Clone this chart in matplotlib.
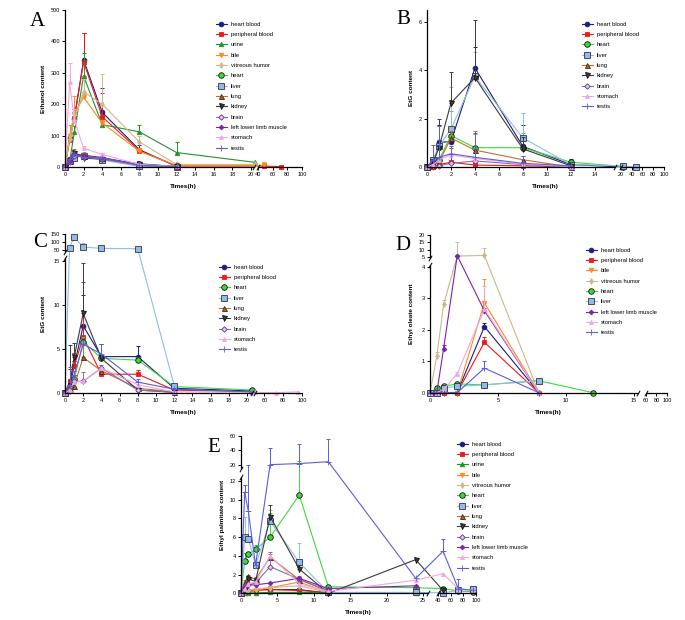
import numpy as np
import matplotlib
matplotlib.use('Agg')
import matplotlib.pyplot as plt
from matplotlib import transforms

plt.rcParams['font.family'] = ['Liberation Sans', 'DejaVu Sans']

N = None

## Panel A - ethanol
A_T = [0, 0.5, 1, 2, 4, 8, 12, 24, 48, 72]
A_HEART_BLOOD = [0, 92, 154, 341, 174, 55, 2]
A_HEART_BLOOD_SD = [0, 8, 32, 87, 76, 15, 0]
A_PERIPHERAL = [0, 85, 155, 335, 160, 52, 3, N, 3, 1]
A_PERIPHERAL_SD = [0, 10, 20, 92, 76, 10, 0, 0, 2, 0]
A_URINE = [0, 18, 110, 290, 135, 112, 46, 15]
A_URINE_SD = [0, 5, 20, 72, 10, 23, 34, 0]
A_BILE = [0, 100, 170, 222, 140, 50, 5, N, 5]
A_BILE_SD = [0, 35, 56, 10, 10, 10, 0, 0, 10]
A_VITREOUS = [0, 90, 150, 240, 200, 80, 8, 8]
A_VITREOUS_SD = [0, 10, 20, 40, 95, 18, 0, 0]
A_HEART = [0, 20, 38, 35, 25, 10, 2]
A_HEART_SD = [0, 5, 10, 12, 8, 4, 0]
A_LIVER = [0, 20, 30, 35, 22, 2, 1]
A_LUNG = [0, 25, 45, 35, 28, 8, 2]
A_LUNG_SD = [0, 5, 12, 8, 5, 3, 0]
A_KIDNEY = [0, 22, 45, 28, 25, 10, 1]
A_BRAIN = [0, 15, 35, 32, 25, 5, 1]
A_MUSCLE = [0, 18, 40, 38, 30, 8, 1]
A_STOMACH = [0, 270, 150, 60, 40, 8, 2]
A_STOMACH_SD = [0, 62, 35, 8, 5, 2, 0]
A_TESTIS = [0, 25, 40, 30, 30, 5, 1]

## Panel B - EtG
B_T = [0, 0.5, 1, 2, 4, 8, 12, 24, 48]
B_HEART_BLOOD = [0, 0, 1.02, 1.05, 4.1, 0.85, 0.1, 0.0]
B_HEART_BLOOD_SD = [0, 0, 0.7, 0.3, 0.85, 0.9, 0.25, 0]
B_PERIPHERAL = [0, 0.02, 0.1, 0.2, 0.08, 0.05, 0.0]
B_PERIPHERAL_SD = [0, 0, 0.05, 0.6, 0.1, 0.05, 0]
B_HEART = [0, 0.2, 0.3, 1.3, 0.8, 0.8, 0.2, 0.02]
B_HEART_SD = [0, 0.1, 0.4, 1.0, 0.55, 0.6, 0.1, 0]
B_LIVER = [0, 0.3, 0.85, 1.58, 3.75, 1.2, 0.1, 0.05, 0.0]
B_LIVER_SD = [0, 0.6, 0.85, 1.75, 1.0, 1.05, 0.1, 0, 0]
B_LUNG = [0, 0.1, 0.2, 1.2, 0.7, 0.3, 0.0]
B_LUNG_SD = [0, 0, 0.2, 0.3, 0.8, 0.15, 0]
B_KIDNEY = [0, 0.2, 0.8, 2.65, 3.7, 0.75, 0.05]
B_KIDNEY_SD = [0, 0.2, 1.2, 1.3, 2.4, 0.5, 0]
B_BRAIN = [0, 0.05, 0.05, 0.15, 0.25, 0.1, 0.0]
B_STOMACH = [0, 0.1, 0.3, 0.5, 0.35, 0.12, 0.02]
B_TESTIS = [0, 0.3, 0.4, 0.55, 0.4, 0.15, 0.05]
B_TESTIS_SD = [0, 0.6, 1.3, 0.3, 1.0, 0.3, 0]

## Panel C - EtG
C_T = [0, 0.5, 1, 2, 4, 8, 12, 24, 48, 72, 96]
C_HEART_BLOOD = [0, 0.5, 3.0, 7.6, 4.1, 4.1, 0.5, 0.2]
C_HEART_BLOOD_SD = [0, 0.5, 0.6, 3.5, 1.4, 1.2, 0.2, 0]
C_PERIPHERAL = [0, 1.3, 3.0, 6.3, 2.1, 2.1, 0.3, 0.1]
C_PERIPHERAL_SD = [0, 1.4, 1.5, 6.3, 0.3, 0.5, 0.1, 0]
C_HEART = [0, 0.5, 1.5, 5.8, 3.9, 3.7, 0.7, 0.3]
C_HEART_SD = [0, 0.3, 0.5, 0.5, 0.3, 0.3, 0.1, 0]
C_LIVER = [0, 65, 130, 69, 60, 58, 0.8]
C_LIVER_SD = [0, 0, 5, 28, 3, 3, 0.1]
C_LUNG = [0, 0.3, 0.8, 4.0, 2.5, 0.5, 0.1]
C_LUNG_SD = [0, 0, 0.3, 1.5, 0.3, 0.1, 0]
C_KIDNEY = [0, 0.8, 4.0, 9.0, 3.9, 0.3, 0.05]
C_KIDNEY_SD = [0, 4.6, 1.6, 5.7, 0.4, 0.1, 0]
C_BRAIN = [0, 0.2, 1.3, 1.3, 2.8, 0.3, 0.05]
C_BRAIN_SD = [0, 0, 0.2, 1.0, 0.3, 0, 0]
C_STOMACH = [0, 0.3, 1.2, 1.3, 2.8, 0.9, 0.1, 0.05, 0.05, 0.0, 0.1]
C_TESTIS = [0, 0.8, 2.0, 5.5, 4.4, 1.2, 0.4, 0.1]
C_TESTIS_SD = [0, 2.1, 0.5, 0.5, 1.1, 0.3, 0.1, 0]

## Panel D - ethyl oleate
D_T = [0, 0.5, 1, 2, 4, 8, 12]
D_HEART_BLOOD = [0, 0, 0, 0, 2.1, 0]
D_HEART_BLOOD_SD = [0, 0, 0, 0, 0.1, 0]
D_PERIPHERAL = [0, 0, 0, 0, 1.6, 0]
D_PERIPHERAL_SD = [0, 0, 0, 0, 0.18, 0]
D_BILE = [0, 0, 0, 0, 2.85, 0]
D_BILE_SD = [0, 0, 0, 0, 0.75, 0]
D_VITREOUS = [0, 1.15, 2.8, 5.8, 6.2, 0]
D_VITREOUS_SD = [0, 0.15, 0.15, 9.2, 4.8, 0]
D_HEART = [0, 0.15, 0.2, 0.28, 0.25, 0.38, 0.0]
D_HEART_SD = [0, 0, 0.03, 0.03, 0, 0.04, 0]
D_LIVER = [0, 0, 0.15, 0.2, 0.25, 0.38]
D_MUSCLE = [0, 0, 1.4, 6.0, 2.6, 0]
D_MUSCLE_SD = [0, 0, 0.1, 0.4, 0.1, 0]
D_STOMACH = [0, 0, 0.1, 0.6, 2.65, 0]
D_STOMACH_SD = [0, 0, 0, 0.05, 0.75, 0]
D_TESTIS = [0, 0, 0, 0, 0.78, 0]
D_TESTIS_SD = [0, 0, 0, 0, 0.24, 0]

## Panel E - ethyl palmitate
E_T = [0, 0.5, 1, 2, 4, 8, 12, 24, 48, 72, 96]
E_HEART_BLOOD = [0, 0.1, 0.2, 0.4, 0.4, 0.4, 0.0]
E_PERIPHERAL = [0, 0.1, 0.15, 0.3, 0.4, 0.3, 0.1]
E_URINE = [0, 0.05, 0.05, 0.05, 0.1, 0.1, 0.05, 0.0]
E_BILE = [0, 0.1, 0.2, 0.3, 0.6, 1.2, 0.1]
E_VITREOUS = [0, 0.2, 0.3, 0.5, 0.6, 0.8, 0.1]
E_HEART = [0, 3.45, 4.2, 4.7, 6.0, 10.5, 0.7, 0.6, 0.5, 0.25, 0.15]
E_HEART_SD = [0, 0.9, 0.2, 0.5, 2.6, 15, 0.1, 0, 0.1, 0, 0]
E_LIVER = [0, 6.0, 5.85, 3.0, 7.7, 3.3, 0.1, 0.1, 0.05, 0.3, 0.45]
E_LIVER_SD = [0, 2.2, 2.9, 0.4, 1.2, 2.05, 0, 0, 0, 0.2, 0]
E_LUNG = [0, 1.2, 1.8, 1.5, 3.85, 1.45, 0.3]
E_LUNG_SD = [0, 0.2, 0.2, 0.2, 0.3, 0.3, 0]
E_KIDNEY = [0, 0.5, 1.5, 1.3, 8.2, 2.6, 0.0, 3.6, 0.3]
E_KIDNEY_SD = [0, 0, 0, 0, 1.2, 0.4, 0, 0, 0]
E_BRAIN = [0, 0.8, 1.0, 1.1, 2.85, 1.5, 0.2]
E_BRAIN_SD = [0, 0, 0, 0, 1.6, 0.3, 0]
E_MUSCLE = [0, 0.7, 0.9, 0.9, 1.1, 1.6, 0.5, 0.8]
E_STOMACH = [0, 0.5, 1.0, 1.2, 4.0, 1.0, 0.2, 1.4, 2.1, 0.5, 0.3]
E_TESTIS = [0, 10.8, 8.8, 3.0, 20.5, 22, 24.5, 1.6, 4.5, 0.5, 0.3]
E_TESTIS_SD = [0, 0.8, 11.2, 0, 22.5, 26, 30.5, 0, 1.3, 1.0, 0]

# colour, marker, size, face, edge
STYLE = {
    'heart blood': ('#1c1c84', 'o', 3.4, '#1c1c84', '#1c1c84'),
    'peripheral blood': ('#f01818', 's', 3.4, '#f01818', '#f01818'),
    'urine': ('#22922a', '^', 3.2, '#22922a', '#22922a'),
    'bile': ('#ff8a1c', 'v', 3.2, '#ff8a1c', '#ff8a1c'),
    'vitreous humor': ('#c9b98d', 'd', 3.0, '#c9b98d', '#c9b98d'),
    'heart': ('#3ada3a', 'o', 4.0, '#3ada3a', '#111111'),
    'liver': ('#92bce8', 's', 4.0, '#92bce8', '#333344'),
    'lung': ('#c0702a', '^', 3.6, '#b06020', '#3a2a1a'),
    'kidney': ('#3a3a3a', 'v', 3.6, '#3a3a3a', '#111111'),
    'brain': ('#8a6aaa', 'D', 2.8, '#e0c8f0', '#5a3a7a'),
    'left lower limb muscle': ('#7d22a8', 'D', 2.4, '#7d22a8', '#7d22a8'),
    'stomach': ('#f2a6e2', '^', 2.8, '#f2a6e2', '#f2a6e2'),
    'testis': ('#5c5cdc', '+', 4.5, '#5c5cdc', '#5c5cdc'),
}

W, H = 685, 620
fig = plt.figure(figsize=(6.85, 6.2), dpi=100)
SLASH = [(-1, -1.7), (1, 1.7)]
LW = 0.9


def pad(vals, n):
    vals = list(vals) + [N] * (n - len(vals))
    return np.array([np.nan if v is None else v for v in vals], float)


def piecewise(b1, a2, gap, slope):
    xp = [-1e6, b1, a2, 1e6]
    fp = [-1e6, b1, b1 + gap, b1 + gap + (1e6 - a2) * slope]
    return (lambda v: np.interp(v, xp, fp)), (lambda v: np.interp(v, fp, xp))


def panel(px, letter, letter_xy, t, series, ylabel, xbrk, ybrk, xticks, yticks,
          xmax, ymax, leg_xy):
    x0, ybot, w, h = px
    ax = fig.add_axes([x0 / W, 1 - ybot / H, w / W, h / H])
    t = np.asarray(t, float)
    for name, vals, sd in series:
        color, marker, ms, mfc, mec = STYLE[name]
        v = pad(vals, len(t))
        ok = ~np.isnan(v)
        if sd is not None:
            s = pad(sd, len(t))
            m = ok & (np.nan_to_num(s) > 0)
            ax.errorbar(t[m], v[m], yerr=[np.zeros(m.sum()), s[m]], fmt='none',
                        ecolor=color, elinewidth=0.7, capsize=1.6, capthick=0.7)
        ax.plot(t[ok], v[ok], color=color, lw=0.8, marker=marker, ms=ms,
                mfc=mfc, mec=mec, mew=0.6, label=name, clip_on=False)

    if xbrk:
        ax.set_xscale('function', functions=piecewise(*xbrk))
    if ybrk:
        ax.set_yscale('function', functions=piecewise(*ybrk))
    ax.set_xlim(0, xmax)
    ax.set_ylim(0, ymax)
    for sp in ['top', 'right']:
        ax.spines[sp].set_visible(False)
    for sp in ['left', 'bottom']:
        ax.spines[sp].set_linewidth(LW)

    if xbrk:
        ax.spines['bottom'].set_visible(False)
        tr = transforms.blended_transform_factory(ax.transData, ax.transAxes)
        b1, a2 = xbrk[0], xbrk[1]
        ax.plot([0, b1], [0, 0], color='k', lw=LW, transform=tr, clip_on=False)
        ax.plot([a2, xmax], [0, 0], color='k', lw=LW, transform=tr, clip_on=False)
        ax.plot([b1, a2], [0, 0], ls='none', marker=SLASH, ms=4, mec='k', mew=0.7,
                transform=tr, clip_on=False)
    if ybrk:
        ax.spines['left'].set_visible(False)
        tr = transforms.blended_transform_factory(ax.transAxes, ax.transData)
        b1, a2 = ybrk[0], ybrk[1]
        ax.plot([0, 0], [0, b1], color='k', lw=LW, transform=tr, clip_on=False)
        ax.plot([0, 0], [a2, ymax], color='k', lw=LW, transform=tr, clip_on=False)
        ax.plot([0, 0], [b1, a2], ls='none', marker=SLASH, ms=4, mec='k', mew=0.7,
                transform=tr, clip_on=False)

    ax.set_xticks(xticks)
    ax.set_xticklabels([f'{v:g}' for v in xticks])
    ax.set_yticks(yticks)
    ax.set_yticklabels([f'{v:g}' for v in yticks])
    ax.minorticks_off()
    ax.tick_params(direction='out', length=2.2, width=0.7, labelsize=4, pad=1.5)
    ax.set_xlabel('Times(h)', fontsize=4.6, fontweight='bold', labelpad=5)
    ax.set_ylabel(ylabel, fontsize=4.6, fontweight='bold', labelpad=3)

    ax.legend(loc='upper left', bbox_to_anchor=(leg_xy[0] / W, 1 - leg_xy[1] / H),
              bbox_transform=fig.transFigure, frameon=False, fontsize=4.2,
              borderpad=0, borderaxespad=0, handlelength=1.8, handletextpad=0.7,
              labelspacing=0.9)
    fig.text(letter_xy[0] / W, 1 - letter_xy[1] / H, letter, fontsize=15,
             family='Liberation Serif', ha='center', va='center')
    return ax


panel((65, 167, 236.8, 157), 'A', (37, 22), A_T, [
    ('heart blood', A_HEART_BLOOD, A_HEART_BLOOD_SD),
    ('peripheral blood', A_PERIPHERAL, A_PERIPHERAL_SD),
    ('urine', A_URINE, A_URINE_SD),
    ('bile', A_BILE, A_BILE_SD),
    ('vitreous humor', A_VITREOUS, A_VITREOUS_SD),
    ('heart', A_HEART, A_HEART_SD),
    ('liver', A_LIVER, None),
    ('lung', A_LUNG, A_LUNG_SD),
    ('kidney', A_KIDNEY, None),
    ('brain', A_BRAIN, None),
    ('left lower limb muscle', A_MUSCLE, None),
    ('stomach', A_STOMACH, A_STOMACH_SD),
    ('testis', A_TESTIS, None),
], 'Ethanol content', (20.3, 40, 0.45, 0.0785), None,
    [0, 2, 4, 6, 8, 10, 12, 14, 16, 18, 20, 40, 60, 80, 100],
    [0, 100, 200, 300, 400, 500], 100, 500, (216, 21.5))

panel((427, 167, 237, 157), 'B', (403, 20), B_T, [
    ('heart blood', B_HEART_BLOOD, B_HEART_BLOOD_SD),
    ('peripheral blood', B_PERIPHERAL, B_PERIPHERAL_SD),
    ('heart', B_HEART, B_HEART_SD),
    ('liver', B_LIVER, B_LIVER_SD),
    ('lung', B_LUNG, B_LUNG_SD),
    ('kidney', B_KIDNEY, B_KIDNEY_SD),
    ('brain', B_BRAIN, None),
    ('stomach', B_STOMACH, None),
    ('testis', B_TESTIS, B_TESTIS_SD),
], 'EtG content', (15.7, 20, 0.47, 0.045), None,
    [0, 2, 4, 6, 8, 10, 12, 14, 20, 40, 60, 80, 100],
    [0, 2, 4, 6], 100, 6.5, (582, 21.5))

panel((65, 392.7, 236.9, 158.4), 'C', (40, 243), C_T, [
    ('heart blood', C_HEART_BLOOD, C_HEART_BLOOD_SD),
    ('peripheral blood', C_PERIPHERAL, C_PERIPHERAL_SD),
    ('heart', C_HEART, C_HEART_SD),
    ('liver', C_LIVER, C_LIVER_SD),
    ('lung', C_LUNG, C_LUNG_SD),
    ('kidney', C_KIDNEY, C_KIDNEY_SD),
    ('brain', C_BRAIN, C_BRAIN_SD),
    ('stomach', C_STOMACH, None),
    ('testis', C_TESTIS, C_TESTIS_SD),
], 'EtG content', (20.5, 50, 0.38, 0.103), (15.3, 40, 0.74, 0.0178),
    [0, 2, 4, 6, 8, 10, 12, 14, 16, 18, 20, 60, 80, 100],
    [0, 5, 10, 15, 50, 100, 150], 100, 150, (219, 264.5))

panel((430, 392.7, 237, 157.8), 'D', (403, 245), D_T, [
    ('heart blood', D_HEART_BLOOD, D_HEART_BLOOD_SD),
    ('peripheral blood', D_PERIPHERAL, D_PERIPHERAL_SD),
    ('bile', D_BILE, D_BILE_SD),
    ('vitreous humor', D_VITREOUS, D_VITREOUS_SD),
    ('heart', D_HEART, D_HEART_SD),
    ('liver', D_LIVER, None),
    ('left lower limb muscle', D_MUSCLE, D_MUSCLE_SD),
    ('stomach', D_STOMACH, D_STOMACH_SD),
    ('testis', D_TESTIS, D_TESTIS_SD),
], 'Ethyl oleate content', (15.3, 60, 0.58, 0.0386), (4.05, 4.5, 0.226, 0.0472),
    [0, 5, 10, 15, 60, 80, 100],
    [0, 1, 2, 3, 4, 5, 10, 15, 20], 100, 20, (586, 247.5))

panel((241, 593.3, 235, 157.6), 'E', (214, 448), E_T, [
    ('heart blood', E_HEART_BLOOD, None),
    ('peripheral blood', E_PERIPHERAL, None),
    ('urine', E_URINE, None),
    ('bile', E_BILE, None),
    ('vitreous humor', E_VITREOUS, None),
    ('heart', E_HEART, E_HEART_SD),
    ('liver', E_LIVER, E_LIVER_SD),
    ('lung', E_LUNG, E_LUNG_SD),
    ('kidney', E_KIDNEY, E_KIDNEY_SD),
    ('brain', E_BRAIN, E_BRAIN_SD),
    ('left lower limb muscle', E_MUSCLE, None),
    ('stomach', E_STOMACH, None),
    ('testis', E_TESTIS, E_TESTIS_SD),
], 'Ethyl palmitate content', (25.7, 40, 1.36, 0.087), (12.4, 15, 0.92, 0.0783),
    [0, 5, 10, 15, 20, 25, 40, 60, 80, 100],
    [0, 2, 4, 6, 8, 10, 12, 20, 40, 60], 100, 60, (457, 441.5))

fig.savefig('out.png', dpi=100)
